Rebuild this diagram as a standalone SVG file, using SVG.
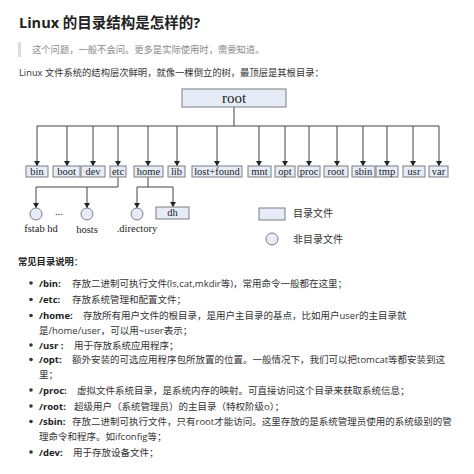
<svg xmlns="http://www.w3.org/2000/svg" width="474" height="474" viewBox="0 0 474 474">
<defs>
<marker id="arr" markerUnits="userSpaceOnUse" markerWidth="6" markerHeight="6" refX="5" refY="3" orient="auto">
<path d="M0,0 L5,3 L0,6 z" fill="#222"/>
</marker>
<style>
.t{font-family:"Open Sans","Noto Sans CJK SC",sans-serif;fill:#333;font-size:9.5px}
.b{font-weight:bold;fill:#222}
.q{fill:#888}
.box{fill:#e6ecf7;stroke:#7c7c7c;stroke-width:1}
.ln{stroke:#444;stroke-width:1;fill:none}
.lna{stroke:#444;stroke-width:1;fill:none;marker-end:url(#arr)}
.tx{font-family:"Liberation Serif","Noto Sans CJK SC",serif;font-size:10.5px;fill:#222;text-anchor:middle}
.lg{font-family:"Liberation Serif","Noto Sans CJK SC",serif;font-size:10px;fill:#333}
.dot{fill:#333}
</style>
</defs>
<rect width="474" height="474" fill="#fff"/>
<text class="t b" x="19" y="28" style="font-size:14.5px">Linux 的目录结构是怎样的?</text>
<rect x="18" y="42" width="3" height="15" fill="#ddd"/>
<text class="t q" x="32" y="53" style="font-size:9.3px">这个问题，一般不会问。更多是实际使用时，需要知道。</text>
<text class="t" x="19" y="76" style="font-size:9.3px">Linux 文件系统的结构层次鲜明，就像一棵倒立的树，最顶层是其根目录：</text>

<g id="connectors">
<path class="ln" d="M234,107 V126 M37,126 H439"/>
<path class="lna" d="M37,126 V166"/>
<path class="lna" d="M67,126 V166"/>
<path class="lna" d="M93,126 V166"/>
<path class="lna" d="M118,126 V166"/>
<path class="lna" d="M148,126 V166"/>
<path class="lna" d="M177,126 V166"/>
<path class="lna" d="M217,126 V166"/>
<path class="lna" d="M259,126 V166"/>
<path class="lna" d="M285,126 V166"/>
<path class="lna" d="M309,126 V166"/>
<path class="lna" d="M337,126 V166"/>
<path class="lna" d="M363,126 V166"/>
<path class="lna" d="M387,126 V166"/>
<path class="lna" d="M413,126 V166"/>
<path class="lna" d="M439,126 V166"/>
<path class="ln" d="M118,177 V187 M36,187 H118 M148,177 V187 M137,187 H173"/>
<path class="lna" d="M36,187 V208"/>
<path class="lna" d="M87,187 V208"/>
<path class="lna" d="M137,187 V208"/>
<path class="lna" d="M173,187 V207"/>
</g>

<g id="root"><rect class="box" x="182" y="89" width="104" height="18"/><text class="tx" x="234" y="103" style="font-size:15px">root</text></g>
<g id="bin"><rect class="box" x="26" y="166" width="22" height="11"/><text class="tx" x="37" y="175">bin</text></g>
<g id="boot"><rect class="box" x="53" y="166" width="27" height="11"/><text class="tx" x="66.5" y="175">boot</text></g>
<g id="dev"><rect class="box" x="81" y="166" width="24" height="11"/><text class="tx" x="93" y="175">dev</text></g>
<g id="etc"><rect class="box" x="110" y="166" width="16" height="11"/><text class="tx" x="118" y="175">etc</text></g>
<g id="home"><rect class="box" x="134" y="166" width="29" height="11"/><text class="tx" x="148.5" y="175">home</text></g>
<g id="lib"><rect class="box" x="168" y="166" width="17" height="11"/><text class="tx" x="176.5" y="175">lib</text></g>
<g id="lostfound"><rect class="box" x="192" y="166" width="50" height="11"/><text class="tx" x="217" y="175">lost+found</text></g>
<g id="mnt"><rect class="box" x="248" y="166" width="23" height="11"/><text class="tx" x="259.5" y="175">mnt</text></g>
<g id="opt"><rect class="box" x="275" y="166" width="20" height="11"/><text class="tx" x="285" y="175">opt</text></g>
<g id="proc"><rect class="box" x="298" y="166" width="22" height="11"/><text class="tx" x="309" y="175">proc</text></g>
<g id="rootdir"><rect class="box" x="324" y="166" width="24" height="11"/><text class="tx" x="336" y="175">root</text></g>
<g id="sbin"><rect class="box" x="352" y="166" width="23" height="11"/><text class="tx" x="363.5" y="175">sbin</text></g>
<g id="tmp"><rect class="box" x="376" y="166" width="22" height="11"/><text class="tx" x="387" y="175">tmp</text></g>
<g id="usr"><rect class="box" x="403" y="166" width="22" height="11"/><text class="tx" x="414" y="175">usr</text></g>
<g id="var"><rect class="box" x="429" y="166" width="19" height="11"/><text class="tx" x="438.5" y="175">var</text></g>

<g id="fstab"><circle class="box" cx="36" cy="214" r="6"/><text class="tx" x="41" y="232">fstab hd</text></g>
<g id="dots"><text class="tx" x="59" y="215">...</text></g>
<g id="hosts"><circle class="box" cx="87" cy="214" r="6"/><text class="tx" x="87" y="233">hosts</text></g>
<g id="directory"><circle class="box" cx="137" cy="214" r="6"/><text class="tx" x="137" y="232">.directory</text></g>
<g id="dh"><rect class="box" x="156" y="207" width="33" height="12"/><text class="tx" x="172.5" y="216">dh</text></g>

<g id="legend">
<rect class="box" x="259" y="208" width="26" height="12"/>
<text class="lg" x="293" y="217">目录文件</text>
<circle class="box" cx="272" cy="239" r="6"/>
<text class="lg" x="293" y="243">非目录文件</text>
</g>

<text class="t b" x="18" y="265" style="font-size:9.3px">常见目录说明<tspan style="font-weight:normal">：</tspan></text>
<g id="list">
<circle class="dot" cx="31" cy="283" r="1.8"/><text class="t b" x="39" y="286.5">/bin:</text><text class="t" x="72" y="286.5">存放二进制可执行文件(ls,cat,mkdir等)，常用命令一般都在这里；</text>
<circle class="dot" cx="31" cy="299.5" r="1.8"/><text class="t b" x="39" y="303">/etc:</text><text class="t" x="72" y="303">存放系统管理和配置文件；</text>
<circle class="dot" cx="31" cy="315.5" r="1.8"/><text class="t b" x="39" y="319">/home:</text><text class="t" x="83" y="319">存放所有用户文件的根目录，是用户主目录的基点，比如用户user的主目录就</text>
<text class="t" x="39" y="333.5">是/home/user，可以用~user表示；</text>
<circle class="dot" cx="31" cy="345" r="1.8"/><text class="t b" x="39" y="348.5">/usr :</text><text class="t" x="74" y="348.5">用于存放系统应用程序；</text>
<circle class="dot" cx="31" cy="359.5" r="1.8"/><text class="t b" x="39" y="363">/opt:</text><text class="t" x="72" y="363">额外安装的可选应用程序包所放置的位置。一般情况下，我们可以把tomcat等都安装到这</text>
<text class="t" x="39" y="377.5">里；</text>
<circle class="dot" cx="31" cy="390" r="1.8"/><text class="t b" x="39" y="393.5">/proc:</text><text class="t" x="77" y="393.5">虚拟文件系统目录，是系统内存的映射。可直接访问这个目录来获取系统信息；</text>
<circle class="dot" cx="31" cy="406" r="1.8"/><text class="t b" x="39" y="409.5">/root:</text><text class="t" x="74" y="409.5">超级用户（系统管理员）的主目录（特权阶级o）；</text>
<circle class="dot" cx="31" cy="421.5" r="1.8"/><text class="t b" x="39" y="425">/sbin:</text><text class="t" x="72" y="425">存放二进制可执行文件，只有root才能访问。这里存放的是系统管理员使用的系统级别的管</text>
<text class="t" x="39" y="439.5">理命令和程序。如ifconfig等；</text>
<circle class="dot" cx="31" cy="452" r="1.8"/><text class="t b" x="39" y="455.5">/dev:</text><text class="t" x="73" y="455.5">用于存放设备文件；</text>
</g>
</svg>
